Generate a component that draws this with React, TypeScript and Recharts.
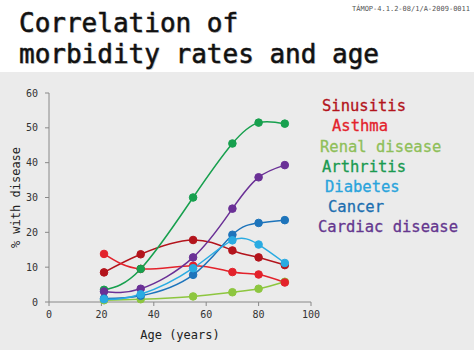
import React from 'react';
import { LineChart, Line, XAxis, YAxis } from 'recharts';

const ages = [21, 35, 55, 70, 80, 90];
const sinusitis = [8.5, 13.7, 17.8, 14.8, 12.8, 10.6];
const asthma = [13.8, 9.5, 10.4, 8.6, 7.9, 5.6];
const renal = [0.5, 0.8, 1.6, 2.8, 3.8, 5.8];
const arthritis = [3.5, 9.5, 30, 45.5, 51.5, 51.2];
const diabetes = [0.8, 2.2, 9.7, 17.7, 16.5, 11.2];
const cancer = [1.0, 1.8, 7.8, 19.3, 22.7, 23.5];
const cardiac = [3.0, 3.8, 12.8, 26.8, 35.8, 39.3];

const xTicks = [0, 20, 40, 60, 80, 100];
const yTicks = [0, 10, 20, 30, 40, 50, 60];

const mono = '"DejaVu Sans Mono", monospace';

// drawing order: later ones sit on top
const series = [
  { key: 'renal', name: 'Renal disease', values: renal, color: '#8dc63f', text: '#8fbf5a' },
  { key: 'sinusitis', name: 'Sinusitis', values: sinusitis, color: '#b3141c', text: '#b3141c' },
  { key: 'asthma', name: 'Asthma', values: asthma, color: '#e3222b', text: '#e3222b' },
  { key: 'arthritis', name: 'Arthritis', values: arthritis, color: '#17a04e', text: '#1a9a50' },
  { key: 'cardiac', name: 'Cardiac disease', values: cardiac, color: '#6a3096', text: '#65378f' },
  { key: 'cancer', name: 'Cancer', values: cancer, color: '#1d74bb', text: '#1d6fb0' },
  { key: 'diabetes', name: 'Diabetes', values: diabetes, color: '#29abe2', text: '#2aa4dc' },
];

const legendOrder = [
  { key: 'sinusitis', x: 322, y: 111 },
  { key: 'asthma', x: 332, y: 131 },
  { key: 'renal', x: 320, y: 152 },
  { key: 'arthritis', x: 322, y: 172 },
  { key: 'diabetes', x: 325, y: 192 },
  { key: 'cancer', x: 328, y: 212 },
  { key: 'cardiac', x: 318, y: 232 },
];

const data = ages.map((age, i) => {
  const row: Record<string, number> = { age };
  series.forEach((s) => {
    row[s.key] = s.values[i];
  });
  return row;
});

export default function App() {
  return (
    <div style={{ position: 'absolute', left: 0, top: 0, width: 474, height: 355, background: '#fff', overflow: 'hidden' }}>
      <div style={{ position: 'absolute', left: 0, top: 72, width: 474, height: 278, background: '#ebebeb' }} />
      <svg width={474} height={72} style={{ position: 'absolute', left: 0, top: 0 }}>
        <text x={470} y={11} textAnchor="end" fontFamily={mono} fontSize={7} fill="#555">
          TÁMOP-4.1.2-08/1/A-2009-0011
        </text>
        {/* title with a faint drop shadow */}
        <g fontFamily={mono} fontSize={26}>
          <text x={20} y={33} fill="#d4d4d4">Correlation of</text>
          <text x={20} y={64} fill="#d4d4d4">morbidity rates and age</text>
          <text x={19} y={32} fill="#111" stroke="#111" strokeWidth={0.5}>Correlation of</text>
          <text x={19} y={63} fill="#111" stroke="#111" strokeWidth={0.5}>morbidity rates and age</text>
        </g>
      </svg>

      <div style={{ position: 'absolute', left: 0, top: 0 }}>
        <LineChart width={474} height={355} data={data} margin={{ top: 93, right: 163, bottom: 23, left: 19 }}>
          <XAxis
            type="number"
            dataKey="age"
            domain={[0, 100]}
            ticks={xTicks}
            height={30}
            stroke="#888"
            tickSize={4}
            tickMargin={5}
            tick={{ fill: '#333', fontSize: 10, fontFamily: mono }}
            label={{ value: 'Age (years)', position: 'bottom', offset: -2, fill: '#222', fontSize: 12, fontFamily: mono }}
          />
          <YAxis
            type="number"
            domain={[0, 60]}
            ticks={yTicks}
            width={30}
            stroke="#888"
            tickSize={4}
            tickMargin={7}
            tick={{ fill: '#333', fontSize: 10, fontFamily: mono }}
            label={{
              value: '% with disease',
              angle: -90,
              position: 'insideLeft',
              offset: -3,
              fill: '#222',
              fontSize: 12,
              fontFamily: mono,
              style: { textAnchor: 'middle' },
            }}
          />
          {series.map((s) => (
            <Line
              key={s.key}
              type="natural"
              dataKey={s.key}
              stroke={s.color}
              strokeWidth={1.5}
              dot={{ r: 3.8, fill: s.color, stroke: s.color, strokeWidth: 1 }}
              isAnimationActive={false}
            />
          ))}
        </LineChart>
      </div>

      <svg width={474} height={355} style={{ position: 'absolute', left: 0, top: 0, pointerEvents: 'none' }}>
        {legendOrder.map((l) => {
          const s = series.find((it) => it.key === l.key)!;
          return (
            <text key={l.key} x={l.x} y={l.y} fontFamily={mono} fontSize={15.5} fill={s.text} stroke={s.text} strokeWidth={0.3}>
              {s.name}
            </text>
          );
        })}
      </svg>
    </div>
  );
}
